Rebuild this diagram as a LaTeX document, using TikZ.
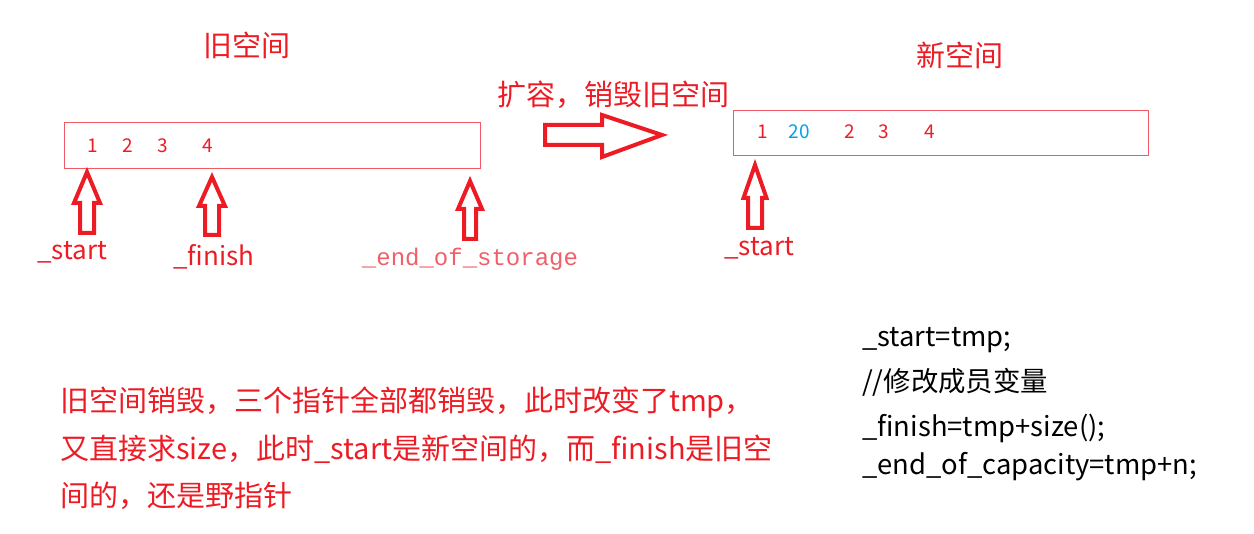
\documentclass[tikz,border=0pt]{standalone}
\usepackage{fontspec}
\setmainfont{Noto Sans CJK SC}
\newfontfamily\monofont{Liberation Mono}
\definecolor{myred}{RGB}{237,28,36}
\definecolor{boxred}{RGB}{240,90,100}
\definecolor{pinkred}{RGB}{240,95,105}
\definecolor{myblue}{RGB}{0,162,232}
\newcommand{\hollowup}[7]{% name, x, tip, base, bottom, headhalf, shafthalf
  \draw[arr] (#2,#3) -- (#2+#6,#4) -- (#2+#7,#4) -- (#2+#7,#5) -- (#2-#7,#5) -- (#2-#7,#4) -- (#2-#6,#4) -- cycle;
  \coordinate (#1) at (#2,#3);}
\begin{document}
\begin{tikzpicture}[x=1pt,y=-1pt,
  arr/.style={draw=myred,line width=4pt,line join=miter},
  box/.style={draw=boxred,line width=1pt},
  num/.style={text=myred,font=\fontsize{19}{22}\selectfont,inner sep=0pt},
  title/.style={text=myred,font=\fontsize{29}{33}\selectfont,inner sep=0pt},
  lab/.style={text=myred,font=\fontsize{26}{30}\selectfont,inner sep=0pt},
  code/.style={text=black,font=\fontsize{27.4}{31}\selectfont,inner sep=0pt,anchor=west},
  note/.style={text=myred,font=\fontsize{29}{33}\selectfont,inner sep=0pt,anchor=west}]
\useasboundingbox (0,0) rectangle (1254,534);
% titles
\node[title] (oldtitle) at (247,45) {旧空间};
\node[title] (newtitle) at (960,55) {新空间};
\node[title] (expand) at (613,95) {扩容，销毁旧空间};
% old box
\draw[box] (64,123) rectangle (480,169);
\coordinate (oldbox) at (272,146);
\node[num] (o1) at (93,146) {1};
\node[num] (o2) at (128,146) {2};
\node[num] (o3) at (163,146) {3};
\node[num] (o4) at (208,146) {4};
% old pointers
\hollowup{ptrstart}{87}{172}{203}{233}{13}{7}
\hollowup{ptrfinish}{212}{177}{206}{235}{13}{7}
\hollowup{ptrend}{470}{181}{209}{239}{12}{6}
\node[lab] (lstart) at (72,252) {\_start};
\node[lab] (lfinish) at (214,257) {\_finish};
\node[text=pinkred,font=\monofont\fontsize{24}{28}\selectfont,inner sep=0pt] (lend) at (470,259) {\_end\_of\_storage};
% big arrow
\draw[arr] (545,125) -- (602,125) -- (602,115) -- (662,135) -- (602,157) -- (602,145) -- (545,145) -- cycle;
% new box
\draw[box] (733,111) rectangle (1148,156);
\node[num] (n1) at (763,132) {1};
\node[num,text=myblue] (n20) at (799,132) {20};
\node[num] (n2) at (850,132) {2};
\node[num] (n3) at (884,132) {3};
\node[num] (n4) at (930,132) {4};
\hollowup{nptrstart}{755}{165}{198}{228}{11.5}{7}
\node[lab] (nlstart) at (759,248) {\_start};
% code
\node[code] (c1) at (862,340) {\_start=tmp;};
\node[code] (c2) at (862,382) {//修改成员变量};
\node[code] (c3) at (862,428) {\_finish=tmp+size();};
\node[code] (c4) at (862,467) {\_end\_of\_capacity=tmp+n;};
% note
\node[note] (t1) at (60,402) {旧空间销毁，三个指针全部都销毁，此时改变了tmp，};
\node[note] (t2) at (60,449) {又直接求size，此时\_start是新空间的，而\_finish是旧空};
\node[note] (t3) at (60,496) {间的，还是野指针};
\end{tikzpicture}
\end{document}
